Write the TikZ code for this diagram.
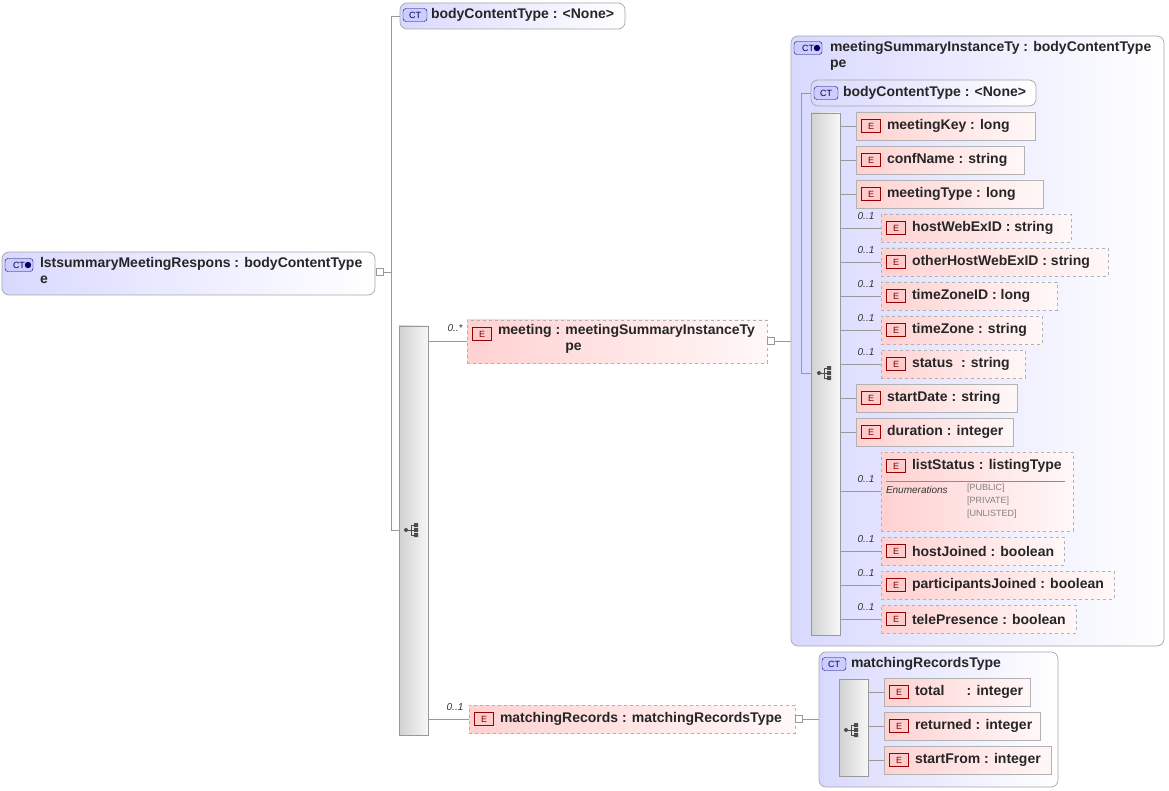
\documentclass[tikz,border=0pt]{standalone}
\usepackage{fontspec}
\setmainfont{Liberation Sans}
\begin{document}
\begin{tikzpicture}[x=1pt,y=-1pt,
  every node/.style={inner sep=0pt,outer sep=0pt},
  lbl/.style={font=\bfseries\fontsize{14}{16}\selectfont,text=black!85,anchor=west},
  card/.style={font=\itshape\fontsize{10}{10}\selectfont,text=black!80},
  elem/.style={draw=black!30,left color=red!18,right color=red!3,line width=0.7pt},
  opt/.style={elem,dashed},
  ctb/.style={draw=black!35,rounded corners=7pt,left color=blue!15!white,right color=white,line width=0.7pt},
  seqb/.style={draw=black!40,left color=black!18,right color=black!3,line width=0.6pt},
  conn/.style={draw=black!40,line width=0.6pt}]
\useasboundingbox (0,0) rectangle (1169,791);
\newcommand\eicon[2]{\node[draw=red!60!black,fill=red!20,minimum width=19pt,minimum height=13pt,font=\fontsize{9}{9}\selectfont,text=red!50!black] at (#1+15,#2) {E};}
\newcommand\cticon[3]{\node[draw=blue!40!black,fill=blue!20,rounded corners=3pt,minimum width=#3pt,minimum height=13pt,font=\fontsize{9}{9}\selectfont,text=blue!30!black] at (#1,#2) {CT};}
\newcommand\seqsym[3]{%
 \node[seqb,minimum width=29pt,minimum height=#3pt,anchor=north west] (#1) at (#2) {};
}
\newcommand\tree[2]{%
 \fill[black!70] (#1-7,#2) circle (2);
 \draw[black!70,line width=0.8pt] (#1-7,#2)--(#1-2,#2) (#1-2,#2-5)--(#1-2,#2+5) (#1-2,#2-5)--(#1+2,#2-5) (#1-2,#2)--(#1+2,#2) (#1-2,#2+5)--(#1+2,#2+5);
 \fill[black!70] (#1+1,#2-7) rectangle (#1+5,#2-3) (#1+1,#2-2) rectangle (#1+5,#2+2) (#1+1,#2+3) rectangle (#1+5,#2+7);}
\newcommand\el[7]{%
 \node[#2,minimum width={(#5)-(#3)},minimum height={(#6)-(#4)},anchor=north west] (#1) at (#3,#4) {};
 \eicon{#3}{#4+14}
 \node[lbl] at (#3+31,#4+14) {#7};}
\newcommand\mel[4]{%
 \el{#1}{elem}{856}{#2-14}{#3}{#2+14}{#4}
 \draw[conn] (seqA.east|-#1.west) -- (#1.west);}
\newcommand\oel[4]{%
 \el{#1}{opt}{881}{#2-14}{#3}{#2+14}{#4}
 \draw[conn] (seqA.east|-#1.west) -- (#1.west);
 \node[card] at (866,#2-12) {0..1};}

% root
\node[ctb,minimum width=373pt,minimum height=43pt,anchor=north west] (root) at (2,252) {};
\cticon{19}{265}{28}
\fill[blue!40!black] (28,265) circle (3.2);
\node[lbl,align=left,anchor=north west] at (40,257) {lstsummaryMeetingRespons : bodyContentType\\e};
\node[draw=black!40,fill=white,minimum size=7pt] (rs) at (380,272) {};
\draw[conn] (rs.east) -- (391,272);
\node[ctb,minimum width=225pt,minimum height=26pt,anchor=north west] (bct1) at (400,3) {};
\cticon{415}{15}{24}
\node[lbl] at (431,15) {bodyContentType : <None>};
\seqsym{seqR}{399,326}{409}
\tree{413}{530}
\draw[conn] (bct1.west) -- (391,16) -- (391,530) -- (seqR.west|-0,530);

% meeting
\el{meeting}{opt}{467}{320}{767}{363}{}
\node[lbl,align=left,anchor=north west] at (498,324) {meeting : meetingSummaryInstanceTy\\\phantom{meeting : }pe};
\draw[conn] (seqR.east|-0,341) -- (467,341);
\node[card] at (455,328) {0..*};
\node[draw=black!40,fill=white,minimum size=7pt] (ms) at (771,341) {};
\draw[conn] (ms.east) -- (801,341);

% matchingRecords
\el{mr}{opt}{469}{705}{795}{733}{matchingRecords : matchingRecordsType}
\draw[conn] (seqR.east|-0,719) -- (469,719);
\node[card] at (455,707) {0..1};
\node[draw=black!40,fill=white,minimum size=7pt] (mrs) at (799,719) {};
\draw[conn] (mrs.east) -- (839,719);

% meetingSummaryInstanceType container
\node[ctb,minimum width=373pt,minimum height=610pt,anchor=north west] (msit) at (791,36) {};
\cticon{808}{48}{28}
\fill[blue!40!black] (817,48) circle (3.2);
\node[lbl,align=left,anchor=north west] at (830,41) {meetingSummaryInstanceTy : bodyContentType\\pe};
\node[ctb,minimum width=225pt,minimum height=26pt,anchor=north west] (bct2) at (811,80) {};
\cticon{826}{93}{24}
\node[lbl] at (843,93) {bodyContentType : <None>};
\seqsym{seqA}{811,113}{522}
\tree{826}{373}
\draw[conn] (bct2.west) -- (801,93) -- (801,373) -- (seqA.west|-0,373);

\mel{mk}{126}{1035}{meetingKey : long}
\mel{cn}{160}{1024}{confName : string}
\mel{mt}{194}{1043}{meetingType : long}
\oel{hw}{228}{1071}{hostWebExID : string}
\oel{ohw}{262}{1108}{otherHostWebExID : string}
\oel{tzi}{296}{1057}{timeZoneID : long}
\oel{tz}{330}{1042}{timeZone : string}
\oel{st}{364}{1025}{status \ : string}
\mel{sd}{398}{1017}{startDate : string}
\mel{du}{432}{1013}{duration : integer}
% listStatus
\el{ls}{opt}{881}{452}{1073}{531}{listStatus : listingType}
\draw[black!45] (886,481) -- (1065,481);
\node[card,anchor=west] at (886,490) {Enumerations};
\node[anchor=north west,align=left,font=\fontsize{9}{13}\selectfont,text=black!50] at (967,484) {{[PUBLIC]}\\{[PRIVATE]}\\{[UNLISTED]}};
\draw[conn] (seqA.east|-0,491) -- (881,491);
\node[card] at (866,479) {0..1};
\oel{hj}{551}{1064}{hostJoined : boolean}
\oel{pj}{585}{1114}{participantsJoined : boolean}
\oel{tp}{619}{1076}{telePresence : boolean}

% matchingRecordsType
\node[ctb,minimum width=239pt,minimum height=135pt,anchor=north west] (mrt) at (819,652) {};
\cticon{834}{664}{24}
\node[lbl] at (851,664) {matchingRecordsType};
\node[seqb,minimum width=29pt,minimum height=97pt,anchor=north west] (seqB) at (839,679) {};
\tree{853}{730}
\newcommand\bel[4]{\el{#1}{elem}{884}{#2-14}{#3}{#2+14}{#4}\draw[conn] (seqB.east|-#1.west) -- (#1.west);}
\bel{to}{692}{1030}{total \hspace{1.3em}: integer}
\bel{re}{726}{1040}{returned : integer}
\bel{sf}{760}{1051}{startFrom : integer}
\end{tikzpicture}
\end{document}
